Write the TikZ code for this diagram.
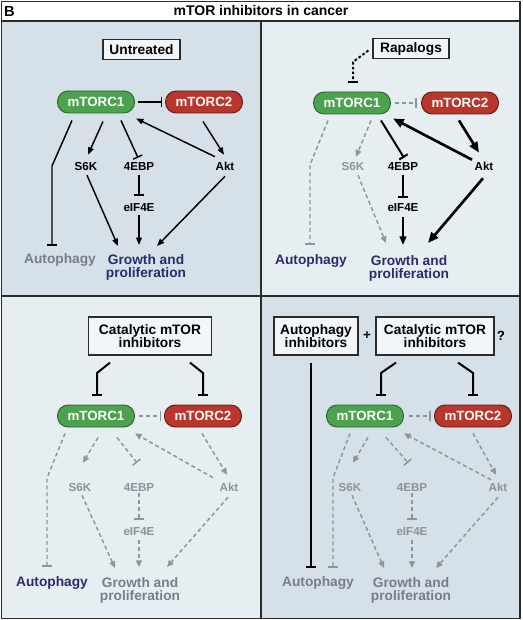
\documentclass[tikz,border=0pt]{standalone}
\usepackage{fontspec}
\setmainfont{Liberation Sans}
\usetikzlibrary{arrows.meta, calc}
\definecolor{clrPanelDark}{HTML}{D5E0E8}
\definecolor{clrPanelLight}{HTML}{E7EEF2}
\definecolor{clrFrame}{HTML}{2B2B2B}
\definecolor{clrGreen}{HTML}{4DA24F}
\definecolor{clrGreenEdge}{HTML}{2E5F30}
\definecolor{clrRed}{HTML}{B8362C}
\definecolor{clrRedEdge}{HTML}{5E1C16}
\definecolor{clrNavy}{HTML}{2B2C6C}
\definecolor{clrGrey}{HTML}{8B939A}
\definecolor{clrGreyMid}{HTML}{767F88}
\definecolor{clrTag}{HTML}{F3F6F8}
\definecolor{clrDash}{HTML}{8C959C}

\begin{document}
\begin{tikzpicture}[
  x=0.75pt, y=-0.75pt,
  pill/.style = {
    rectangle,
    rounded corners=8pt,
    minimum width=57.75pt,
    minimum height=16.5pt,
    inner sep=0pt,
    line width=0.7pt,
    text=white,
    font=\fontsize{10}{10}\selectfont\bfseries
  },
  c1/.style = {pill, fill=clrGreen, draw=clrGreenEdge},
  c2/.style = {pill, fill=clrRed, draw=clrRedEdge},
  tag/.style = {
    rectangle,
    draw=clrFrame,
    fill=clrTag,
    line width=0.9pt,
    align=center,
    inner sep=0pt,
    minimum height=15pt,
    font=\fontsize{10.3}{9.7}\selectfont\bfseries
  },
  lbl/.style = {inner sep=0pt, text height=6pt, text depth=0pt,
    font=\fontsize{8.7}{9}\selectfont\bfseries},
  big/.style = {inner sep=0pt, text height=7.3pt, text depth=0pt,
    font=\fontsize{10.3}{9.8}\selectfont\bfseries},
  growtxt/.style = {inner sep=0pt, anchor=north, align=center,
    font=\fontsize{10.3}{9.8}\selectfont\bfseries},
  arr/.style = {-{Triangle[length=5.5pt, width=4.2pt]}, line width=1.1pt},
  inh/.style = {-{Bar[width=7.5pt]}, line width=1.1pt},
  harr/.style = {-{Triangle[length=8pt, width=6.5pt]}, line width=2pt},
  marr/.style = {-{Triangle[length=6.5pt, width=5pt]}, line width=1.5pt},
  hinh/.style = {-{Bar[width=7.5pt]}, line width=1.5pt},
  cinh/.style = {-{Bar[width=7.5pt]}, line width=1.5pt},
  dotty/.style = {-{Bar[width=7.5pt]}, line width=1.5pt, dash pattern=on 2pt off 1.6pt},
  faded/.style = {draw=clrDash, dash pattern=on 3pt off 2.2pt, line width=1.1pt},
  farr/.style = {faded, -{Triangle[length=5pt, width=4.5pt]}},
  finh/.style = {faded, -{Bar[width=7.5pt]}}
]

% ── frame and panels ─────────────────────────────────────────────────────────
\useasboundingbox (0,0) rectangle (522,620);
\fill[white] (0,0) rectangle (522,620);
\fill[clrPanelDark]  (2,21)   rectangle (261,296);
\fill[clrPanelLight] (261,21) rectangle (520,296);
\fill[clrPanelLight] (2,296)  rectangle (261,618);
\fill[clrPanelDark]  (261,296) rectangle (520,618);
\draw[clrFrame, line width=0.9pt] (1.5,21) -- (520,21);
\draw[clrFrame, line width=0.9pt] (261,21) -- (261,618.5);
\draw[clrFrame, line width=0.9pt] (1.5,296) -- (520,296);
\draw[clrFrame, line width=1.1pt] (1.5,1.5) rectangle (520,618.5);

\node[font=\fontsize{11}{12}\selectfont\bfseries] (tagB) at (9.5,11) {B};
\node[font=\fontsize{10.5}{12}\selectfont\bfseries] (title) at (261,11) {mTOR inhibitors in cancer};

% ── untreated ────────────────────────────────────────────────────────────────
\node[tag, minimum width=57.75pt] (tlTag) at (141.5,49.5) {Untreated};
\node[c1] (tlC1) at (96,102) {mTORC1};
\node[c2] (tlC2) at (204,102) {mTORC2};
\node[lbl] (tlS6k) at (86,167) {S6K};
\node[lbl] (tlEbp) at (139,167) {4EBP};
\node[lbl] (tlAkt) at (225,167) {Akt};
\node[lbl] (tlEif) at (139,207) {eIF4E};
\node[big, text=clrGreyMid] (tlAuto) at (60,259) {Autophagy};
\node[growtxt, text=clrNavy] (tlGrow) at (146,254) {Growth and\\proliferation};
\coordinate (tlBend) at (52,166);

\draw[inh] ($(tlC1.east)+(3,0)$) -- ($(tlC2.west)+(-3,0)$);
\draw[inh] ($(tlC1.south)+(-24,7)$) -- (tlBend) -- ($(tlBend |- tlAuto.north)+(0,-8)$);
\draw[arr] ($(tlC1.south)+(7,8)$) -- ($(tlS6k.north)+(2,-8)$);
\draw[inh] ($(tlC1.south)+(25,7)$) -- ($(tlEbp.north)+(-1,-5)$);
\draw[arr] ($(tlAkt.north)+(-10,-6)$) -- ($(tlC1.south)+(40,5)$);
\draw[arr] ($(tlC2.south)+(-1,8)$) -- ($(tlAkt.north)+(-1,-8)$);
\draw[inh] ($(tlEbp.south)+(0,4)$) -- ($(tlEif.north)+(0,-7)$);
\draw[arr] ($(tlEif.south)+(0,4)$) -- ($(tlGrow.north)+(-7,-9)$);
\draw[arr] ($(tlS6k.south)+(1,4)$) -- ($(tlGrow.north)+(-28,-8)$);
\draw[arr] ($(tlAkt.south)+(0,5)$) -- ($(tlGrow.north)+(11,-8)$);

% ── rapalogs ─────────────────────────────────────────────────────────────────
\node[tag, minimum width=57pt] (trTag) at (411,48.5) {Rapalogs};
\node[c1] (trC1) at (352,103) {mTORC1};
\node[c2] (trC2) at (460,103) {mTORC2};
\node[lbl, text=clrGrey] (trS6k) at (353,167) {S6K};
\node[lbl] (trEbp) at (403,167) {4EBP};
\node[lbl] (trAkt) at (484,167) {Akt};
\node[lbl] (trEif) at (403,208) {eIF4E};
\node[big, text=clrNavy] (trAuto) at (311,260) {Autophagy};
\node[growtxt, text=clrNavy] (trGrow) at (409,255) {Growth and\\proliferation};
\coordinate (trRapBend) at (353,62);
\coordinate (trBend) at (310,165);

\draw[dotty] ($(trTag.west)+(-4,2)$) -- (trRapBend) -- ($(trRapBend |- trC1.north)+(0,-9)$);
\draw[finh] ($(trC1.east)+(4.5,0)$) -- ($(trC2.west)+(-4.5,0)$);
\draw[finh] ($(trC1.south)+(-24,6)$) -- (trBend) -- ($(trBend |- trAuto.north)+(0,-10)$);
\draw[farr] ($(trC1.south)+(19,6)$) -- ($(trS6k.north)+(3,-6)$);
\draw[hinh] ($(trC1.south)+(29,6)$) -- ($(trEbp.north)+(1,-5)$);
\draw[harr] ($(trAkt.north)+(-12,-3)$) -- ($(trC1.south)+(41,4)$);
\draw[harr] ($(trC2.south)+(-1,6)$) -- ($(trAkt.north)+(-5,-10)$);
\draw[hinh] ($(trEbp.south)+(0,4)$) -- ($(trEif.north)+(0,-6)$);
\draw[marr] ($(trEif.south)+(0,5)$) -- ($(trGrow.north)+(-6,-10)$);
\draw[farr] ($(trS6k.south)+(5,4)$) -- ($(trGrow.north)+(-23,-12)$);
\draw[harr] ($(trAkt.south)+(-1,7)$) -- ($(trGrow.north)+(19,-12)$);

% ── catalytic inhibitors ──────────────────────────────────────────────────────
\node[tag, minimum width=92.25pt, minimum height=28.5pt] (blTag) at (150,336) {Catalytic mTOR\\inhibitors};
\node[c1] (blC1) at (96,416) {mTORC1};
\node[c2] (blC2) at (203,416) {mTORC2};
\node[lbl, text=clrGrey] (blS6k) at (80,487) {S6K};
\node[lbl, text=clrGrey] (blEbp) at (139,487) {4EBP};
\node[lbl, text=clrGrey] (blAkt) at (229,487) {Akt};
\node[lbl, text=clrGrey] (blEif) at (139,531) {eIF4E};
\node[big, text=clrNavy] (blAuto) at (52,582) {Autophagy};
\node[growtxt, text=clrGreyMid] (blGrow) at (140,577) {Growth and\\proliferation};
\coordinate (blBendA) at (97,373);
\coordinate (blBendB) at (203,373);
\coordinate (blBend) at (47,478);

\draw[cinh] ($(blTag.south)+(-40,7)$) -- (blBendA) -- ($(blBendA |- blC1.north)+(0,-9)$);
\draw[cinh] ($(blTag.south)+(40,7)$) -- (blBendB) -- ($(blBendB |- blC2.north)+(0,-9)$);
\draw[finh] ($(blC1.east)+(4.5,0)$) -- ($(blC2.west)+(-3,0)$);
\draw[finh] ($(blC1.south)+(-31,6)$) -- (blBend) -- ($(blBend |- blAuto.north)+(0,-10)$);
\draw[farr] ($(blC1.south)+(2,10)$) -- ($(blS6k.north)+(3,-20)$);
\draw[finh] ($(blC1.south)+(21,10)$) -- ($(blEbp.north)+(-2,-20)$);
\draw[farr] ($(blAkt.north)+(-16,-5)$) -- ($(blC1.south)+(39,6)$);
\draw[farr] ($(blC2.south)+(-1,6)$) -- ($(blAkt.north)+(-2,-8)$);
\draw[finh] ($(blEbp.south)+(0,2)$) -- ($(blEif.north)+(0,-7)$);
\draw[farr] ($(blEif.south)+(0,5)$) -- ($(blGrow.north)+(-1,-10)$);
\draw[farr] ($(blS6k.south)+(2,4)$) -- ($(blGrow.north)+(-25,-9)$);
\draw[farr] ($(blAkt.south)+(-1,6)$) -- ($(blGrow.north)+(27,-10)$);

% ── combination ──────────────────────────────────────────────────────────────
\node[tag, minimum width=63pt, minimum height=28.5pt] (brAuInh) at (316,336) {Autophagy\\inhibitors};
\node[font=\fontsize{10}{12}\selectfont\bfseries] (brPlus) at (367,336) {+};
\node[tag, minimum width=88.5pt, minimum height=28.5pt] (brTag) at (435,336) {Catalytic mTOR\\inhibitors};
\node[font=\fontsize{10}{12}\selectfont\bfseries] (brAsk) at (501,336) {?};
\node[c1] (brC1) at (365,416) {mTORC1};
\node[c2] (brC2) at (473,416) {mTORC2};
\node[lbl, text=clrGrey] (brS6k) at (350,487) {S6K};
\node[lbl, text=clrGrey] (brEbp) at (412,487) {4EBP};
\node[lbl, text=clrGrey] (brAkt) at (498,487) {Akt};
\node[lbl, text=clrGrey] (brEif) at (412,531) {eIF4E};
\node[big, text=clrGreyMid] (brAuto) at (318,582) {Autophagy};
\node[growtxt, text=clrGreyMid] (brGrow) at (411,577) {Growth and\\proliferation};
\coordinate (brBendA) at (381,373);
\coordinate (brBendB) at (473,373);
\coordinate (brBend) at (333,478);

\draw[cinh] ($(brAuInh.south)+(-5,7)$) -- ($(brAuInh.south |- brAuto.north)+(-5,-9)$);
\draw[cinh] ($(brTag.south)+(-39,7)$) -- (brBendA) -- ($(brBendA |- brC1.north)+(0,-9)$);
\draw[cinh] ($(brTag.south)+(23,7)$) -- (brBendB) -- ($(brBendB |- brC2.north)+(0,-9)$);
\draw[finh] ($(brC1.east)+(5.5,0)$) -- ($(brC2.west)+(-3.5,0)$);
\draw[finh] ($(brC1.south)+(-15,6)$) -- (brBend) -- ($(brBend |- brAuto.north)+(0,-9)$);
\draw[farr] ($(brC1.south)+(3,10)$) -- ($(brS6k.north)+(3,-20)$);
\draw[finh] ($(brC1.south)+(21,10)$) -- ($(brEbp.north)+(-4,-20)$);
\draw[farr] ($(brAkt.north)+(-7,-3)$) -- ($(brC1.south)+(39,6)$);
\draw[farr] ($(brC2.south)+(0,6)$) -- ($(brAkt.north)+(-2,-8)$);
\draw[finh] ($(brEbp.south)+(0,2)$) -- ($(brEif.north)+(0,-7)$);
\draw[farr] ($(brEif.south)+(0,5)$) -- ($(brGrow.north)+(1,-9)$);
\draw[farr] ($(brS6k.south)+(2,4)$) -- ($(brGrow.north)+(-27,-9)$);
\draw[farr] ($(brAkt.south)+(0,6)$) -- ($(brGrow.north)+(25,-9)$);

\end{tikzpicture}
\end{document}
